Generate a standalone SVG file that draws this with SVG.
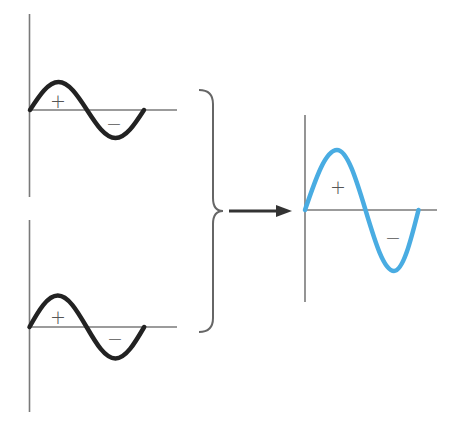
<svg xmlns="http://www.w3.org/2000/svg" width="474" height="430" viewBox="0 0 474 430">
<defs>
<style>
.axis{stroke:#7a7a7a;stroke-width:1.6;fill:none}
.wave{stroke:#222;stroke-width:4.5;fill:none;stroke-linecap:round;stroke-linejoin:round}
.blue{stroke:#49ace2;stroke-width:4.5;fill:none;stroke-linecap:round;stroke-linejoin:round}
.sign{font-family:"DejaVu Sans",sans-serif;font-weight:200;font-size:19px;fill:#555;text-anchor:middle}
.brace{stroke:#666;stroke-width:2;fill:none}
</style>
</defs>
<rect width="474" height="430" fill="#fff"/>
<g id="wave-top">
<line class="axis" x1="29.5" y1="14" x2="29.5" y2="197"/>
<line class="axis" x1="29.5" y1="110" x2="177" y2="110"/>
<path class="wave" d="M30,110 C39.5,95.3 48.3,82 58.5,82 C68.7,82 77.5,95.3 87,110 C96.5,124.7 105.3,138 115.5,138 C125.7,138 134.5,124.7 144,110"/>
<text class="sign" x="58" y="108">+</text>
<text class="sign" x="114" y="130">−</text>
</g>
<g id="wave-bottom">
<line class="axis" x1="29.5" y1="220" x2="29.5" y2="412"/>
<line class="axis" x1="29.5" y1="327" x2="177" y2="327"/>
<path class="wave" d="M29.5,327 C38.6,310.5 47.5,295.5 57.8,295.5 C68.1,295.5 77,310.5 86.6,327 C96.2,343.5 105.1,358.5 115.4,358.5 C125.7,358.5 134.6,343.5 144.2,327"/>
<text class="sign" x="58" y="324">+</text>
<text class="sign" x="115" y="345">−</text>
</g>
<g id="brace">
<path class="brace" d="M199,90 Q213,90 213,104 L213,198 Q213,211 223,211 Q213,211 213,224 L213,318 Q213,332 199,332"/>
</g>
<g id="wave-result">
<line class="axis" x1="305" y1="115" x2="305" y2="302"/>
<line class="axis" x1="305" y1="210" x2="437" y2="210"/>
<path class="blue" d="M305,210 C315.7,178.5 325.5,150 337,150 C347.2,150 356,178.5 365.5,210 C375,241.5 383.8,271 394,271 C403,271 410.6,241.5 418.5,210"/>
<text class="sign" x="338" y="194">+</text>
<text class="sign" x="393" y="244">−</text>
</g>
<g id="connectors">
<line x1="229" y1="211" x2="280" y2="211" stroke="#333" stroke-width="3.2"/>
<polygon points="292,211 276,205 276,217" fill="#333"/>
</g>
</svg>
